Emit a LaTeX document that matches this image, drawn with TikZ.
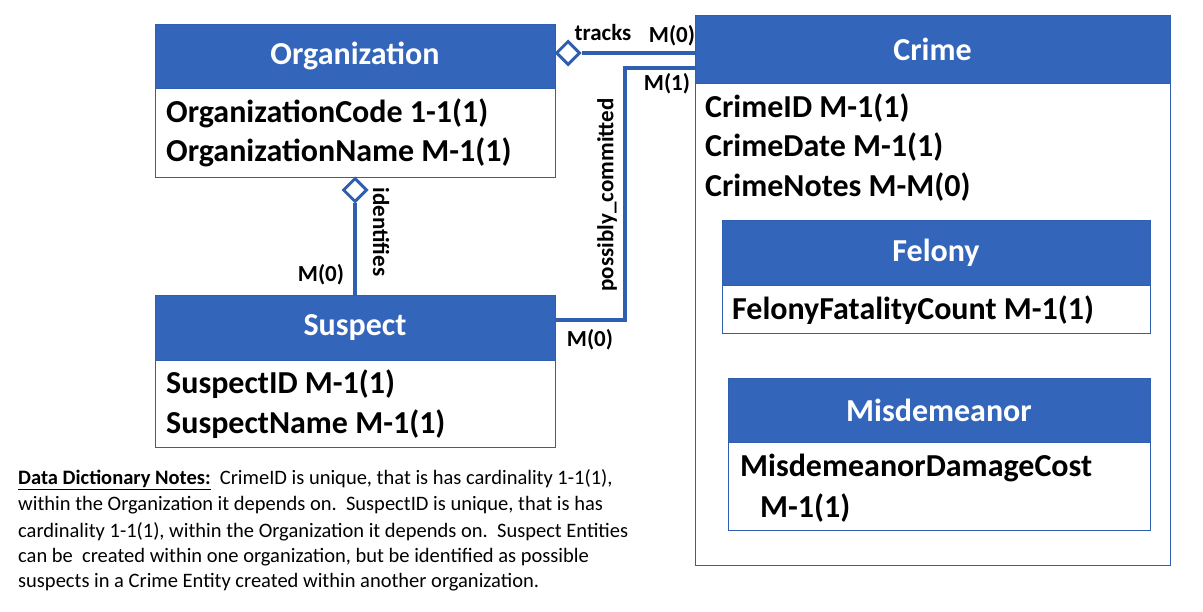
\documentclass[tikz,border=0pt]{standalone}
\usepackage{fontspec}
\setmainfont{Carlito}
\usetikzlibrary{shapes.geometric}
\definecolor{hdr}{HTML}{3366BB}
\definecolor{edge}{HTML}{2F5FAE}
\tikzset{
 hdrbox/.style={fill=hdr,draw=edge,line width=0.6pt,text=white,font=\fontsize{32}{34}\selectfont\bfseries,inner sep=0pt},
 bodybox/.style={draw=edge,line width=0.6pt,inner sep=0pt},
 attr/.style={anchor=west,font=\fontsize{32}{34}\selectfont\bfseries,inner sep=0pt},
 lbl/.style={font=\fontsize{23}{25}\selectfont\bfseries,inner sep=1pt},
 conn/.style={draw=edge,line width=4.5pt},
 dia/.style={diamond,draw=edge,fill=white,line width=3pt,minimum width=24pt,minimum height=24pt,inner sep=0pt},
 note/.style={anchor=west,font=\fontsize{20.5}{22}\selectfont,inner sep=0pt}
}
\begin{document}
\begin{tikzpicture}[x=1pt,y=-1pt]
\useasboundingbox (0,0) rectangle (1203,612);
% Organization
\node[hdrbox,minimum width=400pt,minimum height=64pt] (orgH) at (355,56) {Organization};
\node[bodybox,minimum width=400pt,minimum height=89pt] (orgB) at (355,132.5) {};
\node[attr] (o1) at (166,113) {OrganizationCode 1-1(1)};
\node[attr] (o2) at (166,152) {OrganizationName M-1(1)};
% Crime
\node[bodybox,minimum width=475pt,minimum height=482pt] (crB) at (932.5,324) {};
\node[hdrbox,minimum width=475pt,minimum height=68pt] (crH) at (932.5,49) {Crime};
\node[attr] (c1) at (705,108) {CrimeID M-1(1)};
\node[attr] (c2) at (705,147) {CrimeDate M-1(1)};
\node[attr] (c3) at (705,187) {CrimeNotes M-M(0)};
% Felony
\node[hdrbox,minimum width=428pt,minimum height=65pt] (feH) at (936,252.5) {Felony};
\node[bodybox,minimum width=428pt,minimum height=48pt] (feB) at (936,309) {};
\node[attr] (f1) at (732,310) {FelonyFatalityCount M-1(1)};
% Misdemeanor
\node[hdrbox,minimum width=422pt,minimum height=64pt] (miH) at (939,410) {Misdemeanor};
\node[bodybox,minimum width=422pt,minimum height=88pt] (miB) at (939,486) {};
\node[attr] (m1) at (740,468) {MisdemeanorDamageCost};
\node[attr] (m2) at (760,508) {M-1(1)};
% Suspect
\node[hdrbox,minimum width=400pt,minimum height=65pt] (suH) at (355,327.5) {Suspect};
\node[bodybox,minimum width=400pt,minimum height=87pt] (suB) at (355,403.5) {};
\node[attr] (s1) at (166,384) {SuspectID M-1(1)};
\node[attr] (s2) at (166,424) {SuspectName M-1(1)};
% connectors
\node[dia] (d1) at (568,53) {};
\node[dia] (d2) at (355,190) {};
\draw[conn] (d1.east) -- (crH.west |- d1.east);
\draw[conn] (d2.south) -- (suH.north);
\coordinate (pc1) at (625,320);
\coordinate (pc2) at (625,68);
\draw[conn] (suH.east |- pc1) -- (pc1) -- (pc2) -- (crH.west |- pc2);
% labels
\node[lbl] (lt) at (603,33) {tracks};
\node[lbl] (lm0a) at (672,36) {M(0)};
\node[lbl] (lm1) at (667,84) {M(1)};
\node[lbl] (lm0b) at (590,340) {M(0)};
\node[lbl] (lm0c) at (321,275) {M(0)};
\node[lbl,rotate=-90] (lid) at (381,232) {identifies};
\node[lbl,rotate=90] (lpc) at (607,195) {possibly\_committed};
% notes
\node[note] (n1) at (18,480) {\textbf{\underline{Data Dictionary Notes:}}\ \ CrimeID is unique, that is has cardinality 1-1(1),};
\node[note] (n2) at (18,505) {within the Organization it depends on.\ \ SuspectID is unique, that is has};
\node[note] (n3) at (18,532) {cardinality 1-1(1), within the Organization it depends on.\ \ Suspect Entities};
\node[note] (n4) at (18,557) {can be\ \ created within one organization, but be identified as possible};
\node[note] (n5) at (18,582) {suspects in a Crime Entity created within another organization.};
\end{tikzpicture}
\end{document}
